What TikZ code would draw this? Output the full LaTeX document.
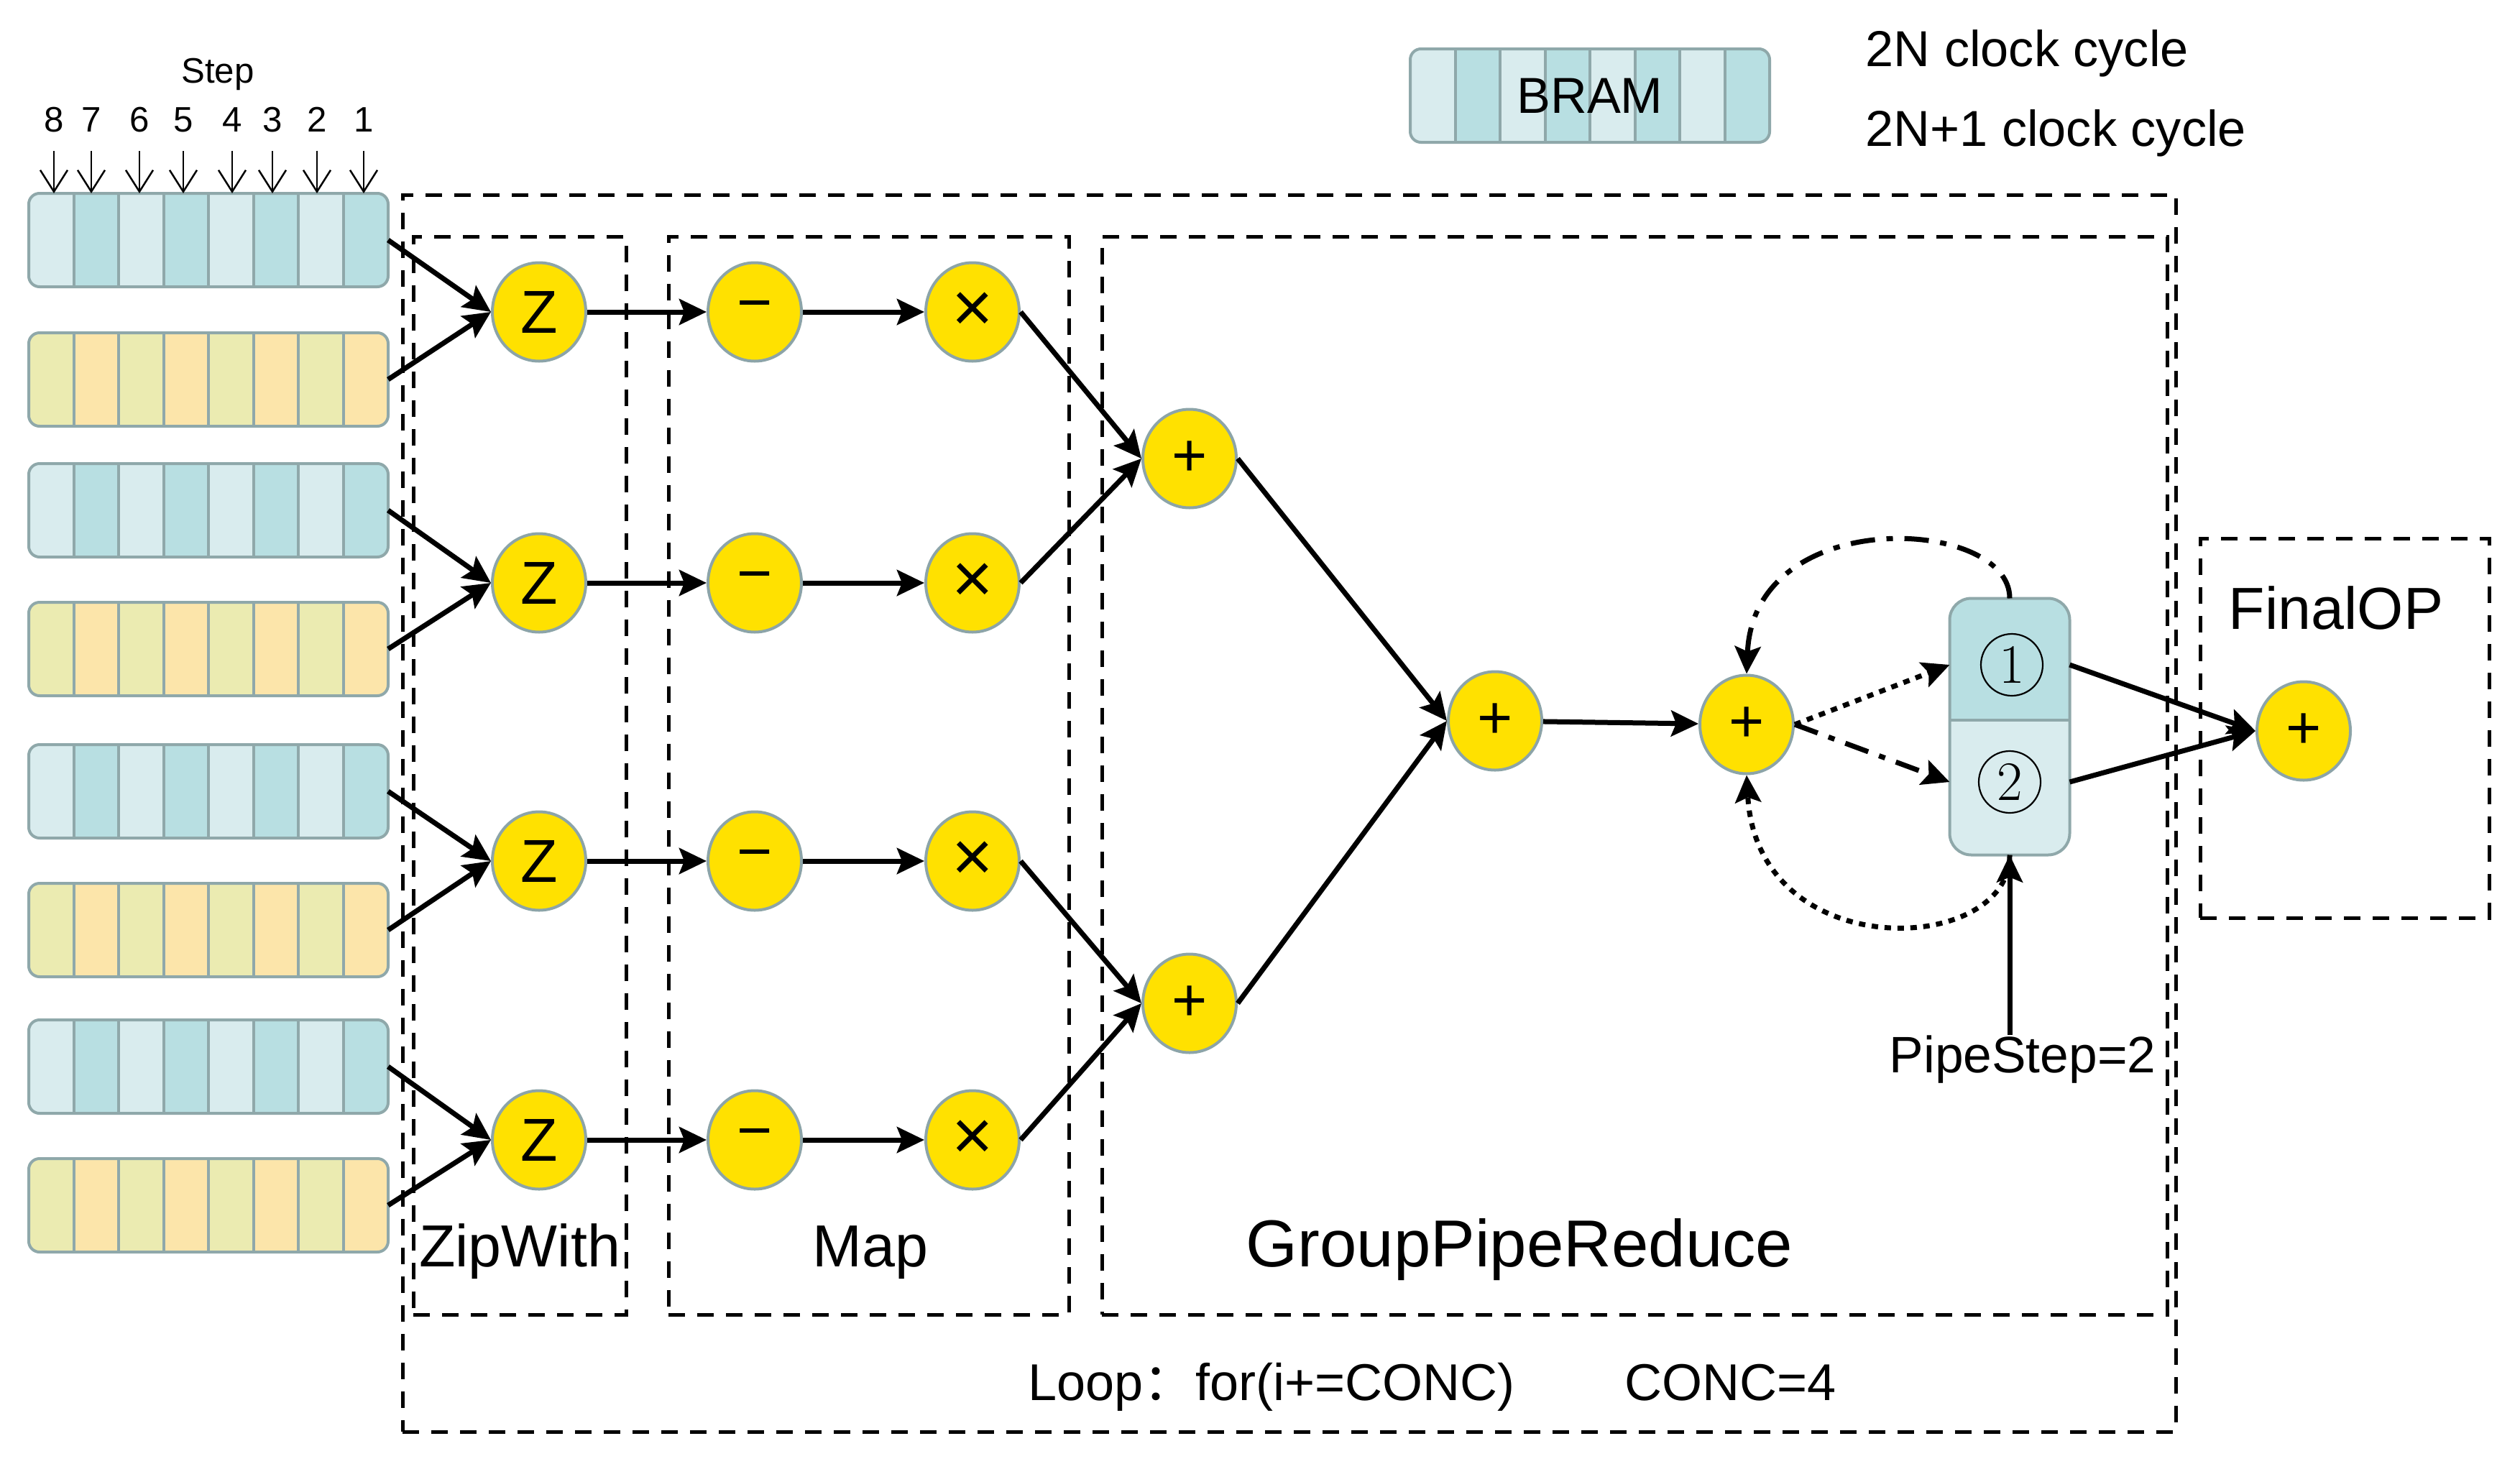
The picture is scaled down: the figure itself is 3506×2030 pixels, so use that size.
\documentclass[tikz,border=0pt]{standalone}
\usepackage{fontspec}
\setmainfont{Liberation Sans}
\newfontfamily\cjk{Noto Sans CJK SC}
\usetikzlibrary{arrows.meta,calc,shapes.geometric}
\definecolor{cyL}{HTML}{D9ECEE}
\definecolor{cyD}{HTML}{B8DFE2}
\definecolor{yeL}{HTML}{EBEBB1}
\definecolor{yeD}{HTML}{FCE5AA}
\definecolor{bord}{HTML}{8FA8AA}
\definecolor{ylw}{HTML}{FFE100}
\definecolor{cbord}{HTML}{8CA4A8}
\newcommand\fsz[1]{\fontsize{#1}{#1}\selectfont}
\tikzset{
  arr/.style 2 args={rectangle, rounded corners=1.5mm, draw=bord, line width=0.4mm,
    minimum width=50mm, minimum height=13mm, inner sep=0, outer sep=0, fill=#1,
    path picture={
      \foreach \k in {1,3,5,7}{\fill[#2, sharp corners] ($(path picture bounding box.north west)+(\k*62.5,0)$) rectangle ++(62.5,130);}
      \foreach \k in {1,...,7}{\draw[bord, line width=0.4mm, sharp corners] ($(path picture bounding box.north west)+(\k*62.5,0)$) -- ++(0,130);}
    }},
  op/.style={ellipse, fill=ylw, draw=cbord, line width=0.4mm, minimum width=13mm,
    minimum height=13.7mm, inner sep=0, font=\fsz{24pt}},
  conn/.style={line width=0.7mm, -{Stealth[length=3.8mm,width=3.6mm,inset=0.7mm]}},
  stp/.style={line width=0.25mm, -{Straight Barb[length=3mm,width=3.8mm]}},
  dbox/.style={draw, line width=0.5mm, dash pattern=on 2.3mm off 1.7mm, rectangle,
    inner sep=0, outer sep=0, anchor=north west},
  dotl/.style={dash pattern=on 0.9mm off 0.9mm},
  dashdotl/.style={dash pattern=on 3.4mm off 1.6mm on 0.9mm off 1.6mm},
  lbl/.style={anchor=base, inner sep=0},
  cnum/.style={circle, draw, line width=0.22mm, minimum size=8.6mm, inner sep=0,
    font=\fontfamily{lmr}\fsz{22pt}},
}
\begin{document}
\begin{tikzpicture}[x=0.1mm, y=-0.1mm]
\useasboundingbox (0,0) rectangle (3506,2030);

% dashed regions
\node[dbox, minimum width=246.7mm, minimum height=172.1mm] (outer) at (560,271) {};
\node[dbox, minimum width=29.6mm, minimum height=150mm] (zipbox) at (575,329) {};
\node[dbox, minimum width=55.7mm, minimum height=150mm] (mapbox) at (930,329) {};
\node[dbox, minimum width=148.2mm, minimum height=150mm] (gprbox) at (1533,329) {};
\node[dbox, minimum width=40.2mm, minimum height=52.8mm] (finbox) at (3061,749) {};

% labels of regions
\node[lbl, font=\fsz{23.5pt}] (zipl) at (723,1762) {ZipWith};
\node[lbl, font=\fsz{23.5pt}] (mapl) at (1211,1762) {Map};
\node[lbl, font=\fsz{26.3pt}] (gprl) at (2114,1762) {GroupPipeReduce};
\node[lbl, font=\fsz{23.5pt}] (finl) at (3250,875) {FinalOP};
\node[anchor=base west, inner sep=0, font=\fsz{20.5pt}] (loop) at (1430,1948) {Loop{\cjk ：}for(i+=CONC)};
\node[anchor=base west, inner sep=0, font=\fsz{20.5pt}] (conc) at (2260,1948) {CONC=4};

% legend
\node[arr={cyL}{cyD}, font=\fsz{20pt}] (bram) at (2212,133) {BRAM};
\node[anchor=base west, inner sep=0, font=\fsz{20pt}] (leg1) at (2595,92) {2N clock cycle};
\node[anchor=base west, inner sep=0, font=\fsz{20pt}] (leg2) at (2595,203) {2N+1 clock cycle};

% input arrays
\node[arr={cyL}{cyD}] (a1) at (290,334) {};
\node[arr={yeL}{yeD}] (a2) at (290,528) {};
\node[arr={cyL}{cyD}] (a3) at (290,710) {};
\node[arr={yeL}{yeD}] (a4) at (290,903) {};
\node[arr={cyL}{cyD}] (a5) at (290,1101) {};
\node[arr={yeL}{yeD}] (a6) at (290,1294) {};
\node[arr={cyL}{cyD}] (a7) at (290,1484) {};
\node[arr={yeL}{yeD}] (a8) at (290,1677) {};

% step markers
\node[lbl, font=\fsz{14pt}] (steplbl) at (303,115) {Step};
\foreach \n/\xx in {8/75,7/127,6/194,5/255,4/323,3/379,2/441,1/506}{
  \node[anchor=base, font=\fsz{14pt}, inner sep=1.6mm] (n\n) at (\xx,183) {\n};
  \draw[stp] ([yshift=-1mm]n\n.south) -- (n\n.south |- a1.north);
}

% operators
\foreach \r/\yy in {1/434,2/811,3/1198,4/1586}{
  \node[op] (z\r) at (750,\yy) {Z};
  \node[op] (m\r) at (1050,\yy) {−};
  \node[op, font=\fsz{28pt}] (t\r) at (1353,\yy) {×};
}
\node[op] (p1a) at (1655,638) {+};
\node[op] (p1b) at (1655,1396) {+};
\node[op] (p2) at (2080,1003) {+};
\node[op] (p3) at (2430,1008) {+};
\node[op] (pf) at (3205,1017) {+};

% pipeline buffer
\node[rectangle, rounded corners=3mm, draw=bord, line width=0.4mm, fill=cyL,
  minimum width=16.7mm, minimum height=35.7mm, inner sep=0, outer sep=0,
  path picture={
    \fill[cyD, sharp corners] (path picture bounding box.north west) rectangle ([yshift=0.9mm]path picture bounding box.east);
    \draw[bord, line width=0.4mm, sharp corners] ([yshift=0.9mm]path picture bounding box.west) -- ([yshift=0.9mm]path picture bounding box.east);
  }] (buf) at (2796,1011) {};
\node[cnum] (c1) at (2799,925) {1};
\node[cnum] (c2) at (2796,1088) {2};
\node[lbl, font=\fsz{20.3pt}] (ps) at (2814,1492) {PipeStep=2};

% connectors
\draw[conn] (a1.east) -- (z1.west);
\draw[conn] (a2.east) -- (z1.west);
\draw[conn] (a3.east) -- (z2.west);
\draw[conn] (a4.east) -- (z2.west);
\draw[conn] (a5.east) -- (z3.west);
\draw[conn] (a6.east) -- (z3.west);
\draw[conn] (a7.east) -- (z4.west);
\draw[conn] (a8.east) -- (z4.west);
\foreach \r in {1,...,4}{
  \draw[conn] (z\r) -- (m\r);
  \draw[conn] (m\r) -- (t\r);
}
\draw[conn] (t1.east) -- (p1a.west);
\draw[conn] (t2.east) -- (p1a.west);
\draw[conn] (t3.east) -- (p1b.west);
\draw[conn] (t4.east) -- (p1b.west);
\draw[conn] (p1a.east) -- (p2.west);
\draw[conn] (p1b.east) -- (p2.west);
\draw[conn] (p2) -- (p3);
\draw[conn, dotl] (p3.east) -- (buf.west |- c1);
\draw[conn, dashdotl] (p3.east) -- (buf.west |- c2);
\draw[conn, dashdotl] (buf.north) .. controls (2797,720) and (2440,700) .. (p3.north);
\draw[conn, dotl] (buf.south) .. controls (2797,1330) and (2445,1345) .. (p3.south);
\draw[conn] (buf.east |- c1) -- (pf.west);
\draw[conn] (buf.east |- c2) -- (pf.west);
\draw[conn] (buf.south |- ps.north) -- (buf.south);
\end{tikzpicture}
\end{document}
